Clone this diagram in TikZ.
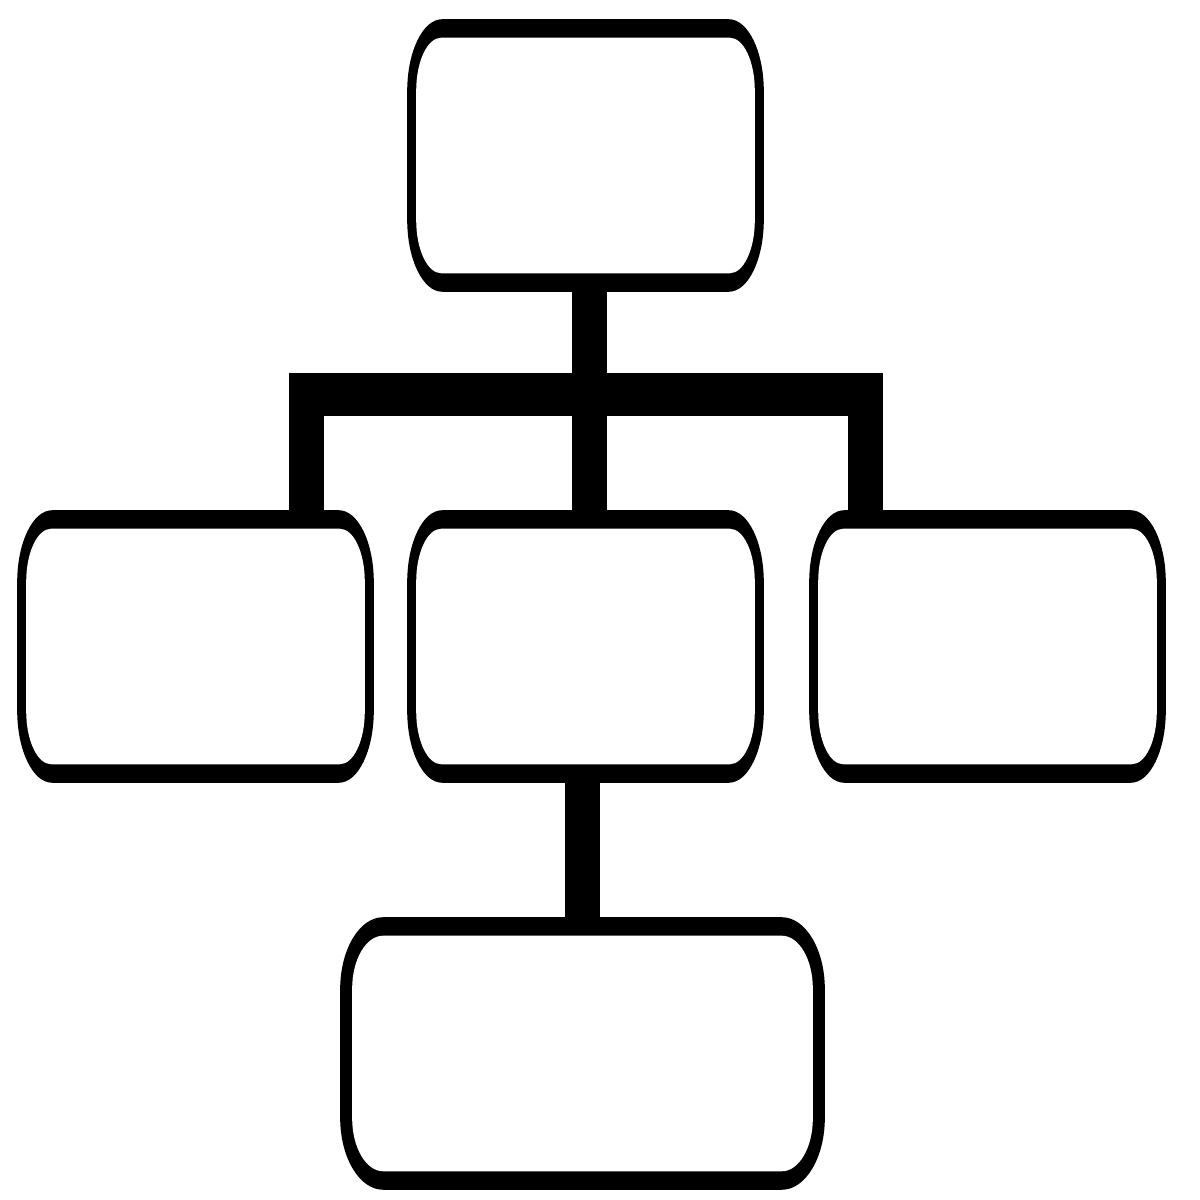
\documentclass[tikz,border=0pt]{standalone}
\usepackage{tikz}
\usetikzlibrary{calc}

\newcommand{\ovalfill}[5]{%
  \fill[#1] ($(#2)+(#4,0)$) -- ($(#3|-#2)+(-#4,0)$)
    arc[start angle=-90,end angle=0,x radius=#4,y radius=#5]
    -- ($(#3)+(0,-#5)$)
    arc[start angle=0,end angle=90,x radius=#4,y radius=#5]
    -- ($(#2|-#3)+(#4,0)$)
    arc[start angle=90,end angle=180,x radius=#4,y radius=#5]
    -- ($(#2)+(0,#5)$)
    arc[start angle=180,end angle=270,x radius=#4,y radius=#5] -- cycle;}
\newcommand{\ovalbox}[7]{%
  \coordinate (#1-isw) at ($(#1.south west)+(#2,#3)$);
  \coordinate (#1-ine) at ($(#1.north east)+(-#2,-#3)$);
  \ovalfill{black}{#1.south west}{#1.north east}{#4}{#5}
  \ovalfill{white}{#1-isw}{#1-ine}{#6}{#7}}

\begin{document}
\begin{tikzpicture}[x=0.01cm,y=0.01cm,
        unit/.style={rectangle,inner sep=0pt,minimum width=3.55cm,minimum height=2.71cm},
        wideunit/.style={unit,minimum width=4.83cm},
        leg/.style={line width=0.35cm,line cap=butt},
        beam/.style={line width=0.43cm,line cap=butt}]
        \useasboundingbox (0,0) rectangle (1200,1200);
        \node[unit] (top) at (585.5,1044.5) {};
        \node[unit] (left) at (195.5,553.5) {};
        \node[unit] (mid) at (585.5,553.5) {};
        \node[unit] (right) at (987.5,553.5) {};
        \node[wideunit] (bottom) at (582.5,146.5) {};
        \coordinate (bar) at (585.75,805.5);
        \draw[beam] ($(bar)+(-297.25,0)$) -- ($(bar)+(297.25,0)$);
        \draw[leg] ($(bar)+(-279.25,0)$) coordinate (lleg) -- (lleg |- left.north);
        \draw[leg] ($(bar)+(279.75,0)$) coordinate (rleg) -- (rleg |- right.north);
        \draw[leg] ([xshift=1pt]top.south) -- ([xshift=1pt]mid.north);
        \draw[leg] (bottom.north |- mid.south) -- (bottom.north);
        \ovalbox{top}{9}{18.5}{35}{72}{25}{53}
        \ovalbox{left}{9}{18.5}{35}{72}{25}{53}
        \ovalbox{mid}{9}{18.5}{35}{72}{25}{53}
        \ovalbox{right}{9}{18.5}{35}{72}{25}{53}
        \ovalbox{bottom}{12}{18.5}{43}{72}{31}{53}
    \end{tikzpicture}
\end{document}
